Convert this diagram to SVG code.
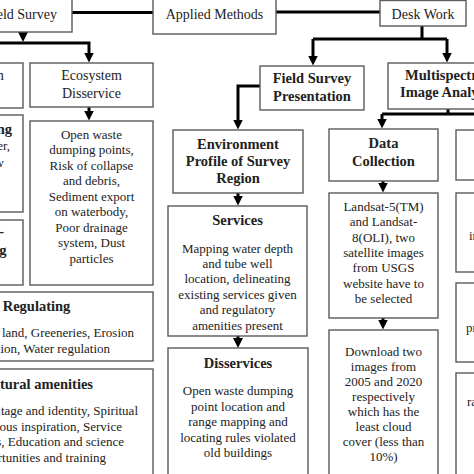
<svg xmlns="http://www.w3.org/2000/svg" width="474" height="474" viewBox="0 0 474 474">
<style>
.box{fill:#fff;stroke:#5a5a5a;stroke-width:1.4}
text{font-family:"Liberation Serif","Times New Roman",serif;fill:#222}
.r13{font-size:13px}
.r14{font-size:14px}
.b{font-weight:bold;font-size:14.5px}
.c{text-anchor:middle}
.e{text-anchor:end}
.s{text-anchor:start}
.con path{fill:none;stroke:#000;stroke-width:3}
</style>
<defs>
<marker id="ah" markerUnits="userSpaceOnUse" markerWidth="10" markerHeight="10" viewBox="0 0 10 10" refX="5" refY="5" orient="auto">
<path d="M0,0 L10,5 L0,10 z" fill="#000"/>
</marker>
</defs>
<rect width="474" height="474" fill="#fff"/>

<g class="con">
<path d="M72,12.5 H153"/>
<path d="M276,12 H380"/>
<path d="M23,32 V37" marker-end="url(#ah)"/>
<path d="M-10,43 H89 V57.5" marker-end="url(#ah)"/>
<path d="M89,107 V115.5" marker-end="url(#ah)"/>
<path d="M422,26 V39"/>
<path d="M313,39 H447"/>
<path d="M313,39 V60.5" marker-end="url(#ah)"/>
<path d="M447,39 V57.5" marker-end="url(#ah)"/>
<path d="M260,86 H238 V124.5" marker-end="url(#ah)"/>
<path d="M238,193 V200.5" marker-end="url(#ah)"/>
<path d="M238,336 V343" marker-end="url(#ah)"/>
<path d="M448,109 V114"/>
<path d="M382,114 H480"/>
<path d="M382,114 V123.5" marker-end="url(#ah)"/>
<path d="M383,181 V187.5" marker-end="url(#ah)"/>
<path d="M383,318 V324.5" marker-end="url(#ah)"/>
</g>

<g id="field-survey">
<rect class="box" x="-30" y="-3" width="102" height="35"/>
<text class="r14 e" x="57" y="19">Field Survey</text>
</g>
<g id="applied-methods">
<rect class="box" x="153" y="-3" width="123" height="37"/>
<text class="r14 c" x="214.5" y="19">Applied Methods</text>
</g>
<g id="desk-work">
<rect class="box" x="380" y="0.5" width="86" height="25.5"/>
<text class="r14 c" x="423" y="18.5">Desk Work</text>
</g>

<g id="ecosystem-service">
<rect class="box" x="-100" y="63" width="123" height="45"/>
<text class="r14 c" x="-26.5" y="79.5">Ecosystem</text>
<text class="r14 c" x="-26.5" y="97.5">Service</text>
</g>
<g id="ecosystem-disservice">
<rect class="box" x="30" y="63" width="123" height="44"/>
<text class="r14 c" x="91.5" y="79.5">Ecosystem</text>
<text class="r14 c" x="91.5" y="97.5">Disservice</text>
</g>
<g id="provisioning">
<rect class="box" x="-100" y="115" width="123" height="97"/>
<text class="b e" x="12" y="134">Provisioning</text>
<text class="r13 e" x="10" y="150">Food, fodder,</text>
<text class="r13 e" x="4" y="167">shadow</text>
</g>
<g id="disservice-list">
<rect class="box" x="30" y="121" width="123" height="164"/>
<text class="r13 c" x="91.5" y="138.5">Open waste</text>
<text class="r13 c" x="91.5" y="154">dumping points,</text>
<text class="r13 c" x="91.5" y="169.5">Risk of collapse</text>
<text class="r13 c" x="91.5" y="185">and debris,</text>
<text class="r13 c" x="91.5" y="200.5">Sediment export</text>
<text class="r13 c" x="91.5" y="216">on waterbody,</text>
<text class="r13 c" x="91.5" y="231.5">Poor drainage</text>
<text class="r13 c" x="91.5" y="247">system, Dust</text>
<text class="r13 c" x="91.5" y="262.5">particles</text>
</g>
<g id="supporting">
<rect class="box" x="-100" y="220" width="123" height="65"/>
<text class="b e" x="4" y="236">Habitat-</text>
<text class="b e" x="6.5" y="255">Supporting</text>
</g>
<g id="regulating">
<rect class="box" x="-80" y="292" width="233" height="69"/>
<text class="b c" x="36.5" y="310.5">Regulating</text>
<text class="r13 e" x="134" y="337">Open land, Greeneries, Erosion</text>
<text class="r13 e" x="110" y="353">prevention, Water regulation</text>
</g>
<g id="cultural">
<rect class="box" x="-80" y="369" width="233" height="110"/>
<text class="b e" x="93" y="388.5">Cultural amenities</text>
<text class="r13 e" x="138" y="415">Heritage and identity, Spiritual</text>
<text class="r13 e" x="122" y="431">and religious inspiration, Service</text>
<text class="r13 e" x="124" y="446">facilities, Education and science</text>
<text class="r13 e" x="106" y="462">opportunities and training</text>
</g>

<g id="field-survey-presentation">
<rect class="box" x="260" y="66" width="104" height="44"/>
<text class="b c" x="312" y="83">Field Survey</text>
<text class="b c" x="312" y="101">Presentation</text>
</g>
<g id="multispectral">
<rect class="box" x="388" y="63" width="120" height="46"/>
<text class="b c" x="447" y="80">Multispectral</text>
<text class="b c" x="447" y="97">Image Analysis</text>
</g>
<g id="environment-profile">
<rect class="box" x="173" y="130" width="130" height="63"/>
<text class="b c" x="238" y="149">Environment</text>
<text class="b c" x="238" y="166">Profile of Survey</text>
<text class="b c" x="238" y="183">Region</text>
</g>
<g id="services">
<rect class="box" x="168" y="206" width="139" height="130"/>
<text class="b c" x="237.5" y="225">Services</text>
<text class="r13 c" x="237.5" y="252.5">Mapping water depth</text>
<text class="r13 c" x="237.5" y="267.9">and tube well</text>
<text class="r13 c" x="237.5" y="283.3">location, delineating</text>
<text class="r13 c" x="237.5" y="298.7">existing services given</text>
<text class="r13 c" x="237.5" y="314.1">and regulatory</text>
<text class="r13 c" x="237.5" y="329.5">amenities present</text>
</g>
<g id="disservices">
<rect class="box" x="168" y="348" width="140" height="130"/>
<text class="b c" x="238" y="367.5">Disservices</text>
<text class="r13 c" x="238" y="395">Open waste dumping</text>
<text class="r13 c" x="238" y="410.5">point location and</text>
<text class="r13 c" x="238" y="426">range mapping and</text>
<text class="r13 c" x="238" y="441.5">locating rules violated</text>
<text class="r13 c" x="238" y="457">old buildings</text>
</g>
<g id="data-collection">
<rect class="box" x="329" y="129" width="109" height="52"/>
<text class="b c" x="383.5" y="148">Data</text>
<text class="b c" x="383.5" y="166">Collection</text>
</g>
<g id="landsat">
<rect class="box" x="329" y="193" width="109" height="125"/>
<text class="r13 c" x="383.5" y="211">Landsat-5(TM)</text>
<text class="r13 c" x="383.5" y="226.3">and Landsat-</text>
<text class="r13 c" x="383.5" y="241.6">8(OLI), two</text>
<text class="r13 c" x="383.5" y="256.9">satellite images</text>
<text class="r13 c" x="383.5" y="272.2">from USGS</text>
<text class="r13 c" x="383.5" y="287.5">website have to</text>
<text class="r13 c" x="383.5" y="302.8">be selected</text>
</g>
<g id="download">
<rect class="box" x="329" y="330" width="109" height="150"/>
<text class="r13 c" x="383.5" y="356">Download two</text>
<text class="r13 c" x="383.5" y="371">images from</text>
<text class="r13 c" x="383.5" y="386">2005 and 2020</text>
<text class="r13 c" x="383.5" y="401">respectively</text>
<text class="r13 c" x="383.5" y="416">which has the</text>
<text class="r13 c" x="383.5" y="431">least cloud</text>
<text class="r13 c" x="383.5" y="446">cover (less than</text>
<text class="r13 c" x="383.5" y="461">10%)</text>
</g>
<g id="right-1">
<rect class="box" x="456" y="130" width="60" height="50"/>
</g>
<g id="right-2">
<rect class="box" x="456" y="193" width="60" height="79"/>
<text class="r13 s" x="469" y="240">in</text>
</g>
<g id="right-3">
<rect class="box" x="456" y="283" width="60" height="79"/>
<text class="r13 s" x="466" y="332">pre</text>
</g>
<g id="right-4">
<rect class="box" x="456" y="373" width="60" height="110"/>
<text class="r13 s" x="467" y="406">ra</text>
</g>
</svg>
